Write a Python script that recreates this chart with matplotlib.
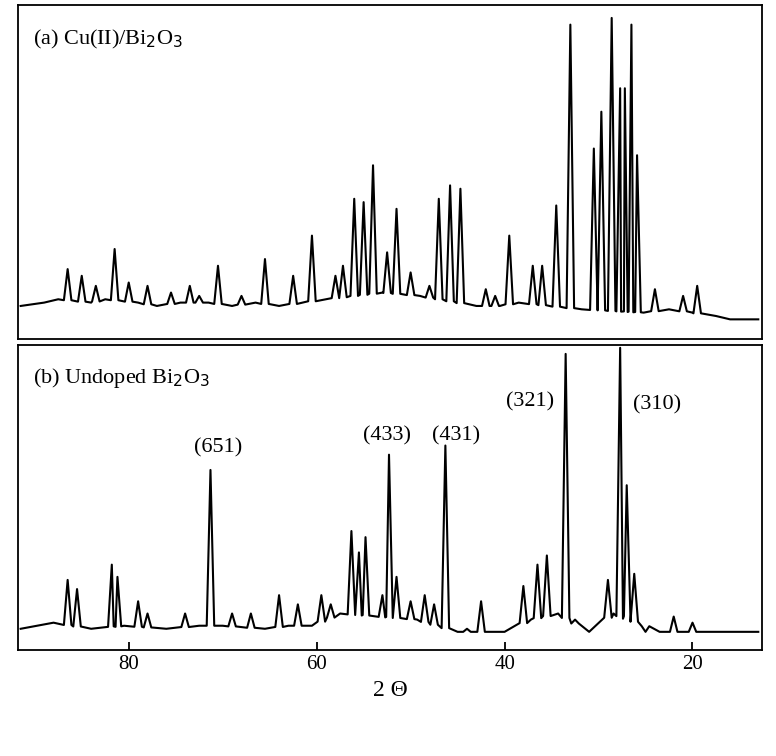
import numpy as np
import matplotlib
matplotlib.use("Agg")
import matplotlib.pyplot as plt

plt.rcParams['font.family'] = ['Liberation Serif', 'DejaVu Serif']

# (a) Cu(II)/Bi2O3 : peak positions (2theta) and heights (% of panel)
a_pk_x = [86.5, 85.0, 83.5, 81.5, 80.0, 78.0, 75.5, 73.5, 72.5, 70.5, 68.0, 65.5, 62.5, 60.5, 58.0, 57.2,
          56.0, 55.0, 54.0, 52.5, 51.5, 50.0, 48.0, 47.0, 45.8, 44.7, 42.0, 41.0, 39.5, 37.0, 36.0,
          34.5, 33.0, 30.5, 29.7, 28.6, 27.7, 27.2, 26.5, 25.9, 24.0, 21.0, 19.5]
a_pk_y = [21, 19, 16, 27, 17, 16, 14, 16, 13, 22, 13, 24, 19, 31, 19, 22,
          42, 41, 52, 26, 39, 20, 16, 42, 46, 45, 15, 13, 31, 22, 22,
          40, 94, 57, 68, 96, 75, 75, 94, 55, 15, 13, 16]
a_bg_x = [91.5, 89, 87.5, 84, 82.5, 79, 77, 74.5, 71.5, 69, 66.5, 64, 61.5, 59, 53, 49, 43, 40.5, 38.5,
          35.2, 31.8, 25.2, 22.5, 20, 17.5, 16, 13]
a_bg_y = [10, 11, 12, 11, 12, 11, 10, 11, 11, 10, 11, 10, 11, 12, 14, 13, 10, 10, 11,
          10, 9, 8, 9, 8, 7, 6, 6]

# (b) Undoped Bi2O3
b_pk_x = [86.5, 85.5, 81.8, 81.2, 79.0, 78.0, 74.0, 71.3, 69.0, 67.0, 64.0, 62.0, 59.5, 58.5, 56.3, 55.5,
          54.8, 53.0, 52.3, 51.5, 50.0, 48.5, 47.5, 46.3, 44.0, 42.5, 38.0, 36.5, 35.5, 33.5, 32.5,
          29.0, 27.7, 27.0, 26.2, 25.0, 22.0, 20.0, 16.0]
b_pk_y = [23, 20, 28, 24, 16, 12, 12, 59, 12, 12, 18, 15, 18, 15, 39, 32,
          37, 18, 64, 24, 16, 18, 15, 67, 7, 16, 21, 28, 31, 97, 10,
          23, 99, 54, 25, 6, 11, 9, 6]
b_bg_x = [91.5, 88, 84, 80.5, 76, 72.5, 70, 65.5, 63, 60.5, 57.5, 49.3, 45, 43, 40, 37.2, 34.3, 31,
          28.4, 23.5, 21, 18, 13]
b_bg_y = [7, 9, 7, 8, 7, 8, 8, 7, 8, 8, 12, 10, 6, 6, 6, 10, 12, 6,
          12, 6, 6, 6, 6]

labels = ['(651)', '(433)', '(431)', '(321)', '(310)']
label_x = [70.5, 52.5, 45.2, 37.3, 23.8]
label_y = [63, 67, 67, 78, 77]


def series(px, py, bx, by, w=0.4):
    xs = list(bx); ys = list(by)
    for x, y in zip(px, py):
        xs += [x + w, x, x - w]
        base = np.interp(x, bx[::-1], by[::-1])
        ys += [base, y, base]
    o = np.argsort(xs)
    return np.array(xs)[o], np.array(ys)[o]


fig = plt.figure(figsize=(7.76, 7.56), dpi=100)
ax1 = fig.add_axes([0.023, 0.551, 0.959, 0.443])
ax2 = fig.add_axes([0.023, 0.140, 0.959, 0.404])

for ax, (px, py, bx, by) in [(ax1, (a_pk_x, a_pk_y, a_bg_x, a_bg_y)),
                             (ax2, (b_pk_x, b_pk_y, b_bg_x, b_bg_y))]:
    x, y = series(px, py, bx, by)
    ax.plot(x, y, color='black', lw=1.5)
    ax.set_xlim(91.8, 12.6)
    ax.set_ylim(0, 100)
    ax.set_yticks([])
    for s in ax.spines.values():
        s.set_linewidth(1.3)

ax1.set_xticks([])
ax2.set_xticks([80, 60, 40, 20])
ax2.tick_params(axis='x', direction='in', length=6, width=1.3, labelsize=15)
ax2.set_xlabel('2 Θ', fontsize=17)

ax1.text(0.02, 0.93, '(a) Cu(II)/Bi$_2$O$_3$', transform=ax1.transAxes, fontsize=16, va='top')
ax2.text(0.02, 0.93, '(b) Undoped Bi$_2$O$_3$', transform=ax2.transAxes, fontsize=16, va='top')
for t, lx, ly in zip(labels, label_x, label_y):
    ax2.text(lx, ly, t, fontsize=16, ha='center', va='bottom')

fig.savefig('out.png', dpi=100)
